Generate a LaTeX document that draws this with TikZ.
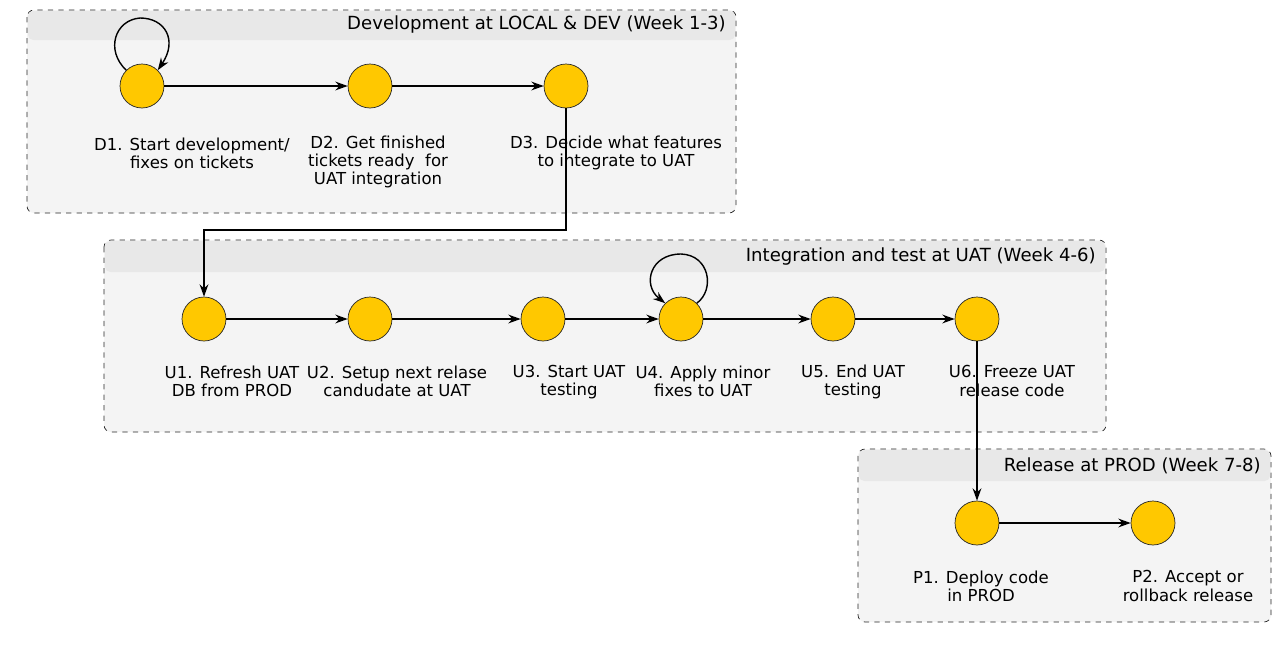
\documentclass[tikz,border=0pt]{standalone}
\usepackage{fontspec}
\setmainfont{DejaVu Sans}
\usetikzlibrary{arrows.meta}
\definecolor{nodey}{RGB}{255,200,0}
\definecolor{boxbg}{RGB}{244,244,244}
\definecolor{hdr}{RGB}{232,232,232}
\begin{document}
\begin{tikzpicture}[x=0.02cm,y=-0.02cm,
  st/.style={circle,draw=black!85,fill=nodey,minimum size=0.88cm,inner sep=0pt},
  lb/.style={align=center,font=\fontsize{9.4}{10.4}\selectfont,inner sep=0pt},
  ttl/.style={anchor=east,font=\fontsize{10.3}{12}\selectfont,inner sep=0pt},
  ar/.style={-{Stealth[length=7pt,width=5pt]},thick},
  grp/.style={draw=black!85,dashed,rounded corners=4pt,fill=boxbg}]
\useasboundingbox (0,0) rectangle (1279,646);
% groups
\draw[grp] (27,10) rectangle (736,213);
\fill[hdr,rounded corners=3pt] (28,11) rectangle (735,40);
\node[ttl] (t1) at (726,25) {Development at LOCAL \& DEV (Week 1-3)};
\draw[grp] (104,240) rectangle (1106,432);
\fill[hdr,rounded corners=3pt] (105,241) rectangle (1105,272);
\node[ttl] (t2) at (1096,257) {Integration and test at UAT (Week 4-6)};
\draw[grp] (858,449) rectangle (1271,622);
\fill[hdr,rounded corners=3pt] (859,450) rectangle (1270,481);
\node[ttl] (t3) at (1261,466) {Release at PROD (Week 7-8)};
% nodes
\node[st] (D1) at (142,86) {};
\node[st] (D2) at (370,86) {};
\node[st] (D3) at (566,86) {};
\node[st] (U1) at (204,319) {};
\node[st] (U2) at (370,319) {};
\node[st] (U3) at (543,319) {};
\node[st] (U4) at (681,319) {};
\node[st] (U5) at (833,319) {};
\node[st] (U6) at (977,319) {};
\node[st] (P1) at (977,523) {};
\node[st] (P2) at (1153,523) {};
% labels
\node[lb] (lD1) at (192,153) {D1. Start development/\\fixes on tickets};
\node[lb] (lD2) at (378,162) {D2. Get finished\\tickets ready\ \ for\\UAT integration};
\node[lb] (lD3) at (616,153) {D3. Decide what features\\to integrate to UAT};
\node[lb] (lU1) at (232,381) {U1. Refresh UAT\\DB from PROD};
\node[lb] (lU2) at (397,381) {U2. Setup next relase\\candudate at UAT};
\node[lb] (lU3) at (569,382) {U3. Start UAT\\testing};
\node[lb] (lU4) at (703,381) {U4. Apply minor\\fixes to UAT};
\node[lb] (lU5) at (853,382) {U5. End UAT\\testing};
\node[lb] (lU6) at (1012,381) {U6. Freeze UAT\\release code};
\node[lb] (lP1) at (981,586) {P1. Deploy code\\in PROD};
\node[lb] (lP2) at (1188,586) {P2. Accept or\\rollback release};
% edges
\draw[ar] (D1) -- (D2);
\draw[ar] (D2) -- (D3);
\coordinate (c1) at (566,230);
\coordinate (c2) at (204,230);
\draw[ar] (D3) -- (c1) -- (c2) -- (U1);
\draw[ar] (U1) -- (U2);
\draw[ar] (U2) -- (U3);
\draw[ar] (U3) -- (U4);
\draw[ar] (U4) -- (U5);
\draw[ar] (U5) -- (U6);
\draw[ar] (U6) -- (P1);
\draw[ar] (P1) -- (P2);
\draw[ar] (D1.north west) .. controls (105,50) and (115,20) .. (140,18) .. controls (165,18) and (178,40) .. (D1.north east);
\draw[ar] (U4.north east) .. controls (715,290) and (710,255) .. (681,254) .. controls (650,254) and (642,285) .. (U4.north west);
\end{tikzpicture}
\end{document}
